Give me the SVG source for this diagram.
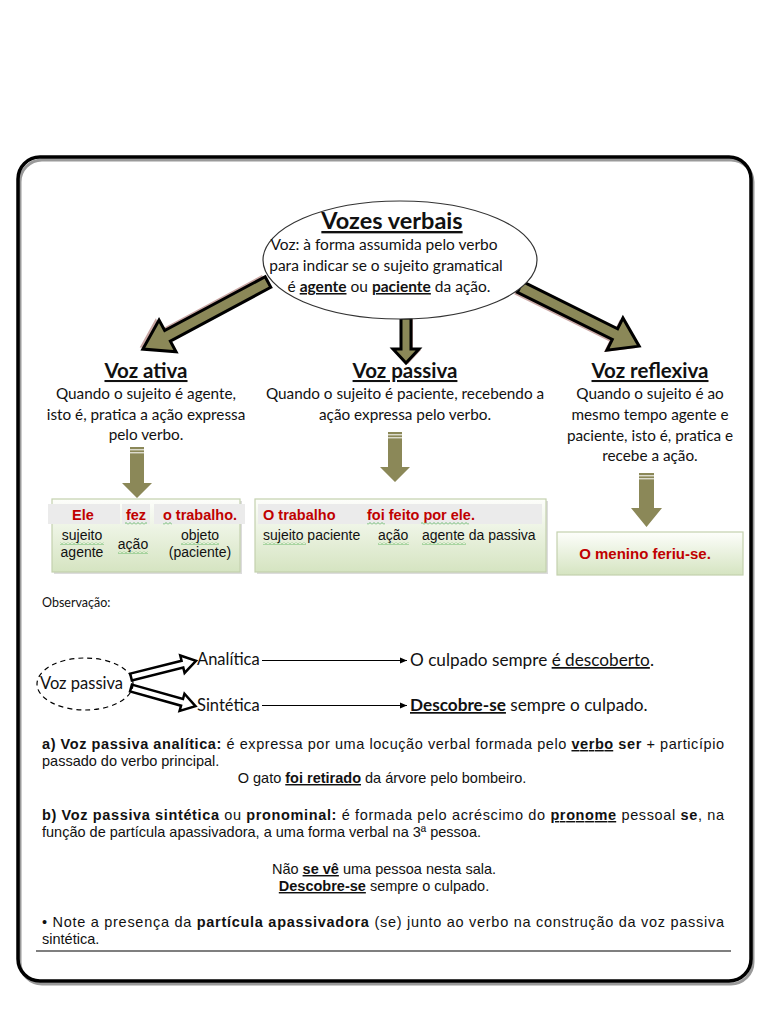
<svg xmlns="http://www.w3.org/2000/svg" width="768" height="1024" viewBox="0 0 768 1024">
<defs>
<linearGradient id="boxg" x1="0" y1="0" x2="0" y2="1">
<stop offset="0" stop-color="#fdfefb"/>
<stop offset="1" stop-color="#d5e4c1"/>
</linearGradient>
<marker id="ah" markerWidth="8" markerHeight="8" refX="7" refY="4" orient="auto" markerUnits="userSpaceOnUse">
<path d="M0,1 L7,4 L0,7 Z" fill="#000"/>
</marker>
<pattern id="wavy" width="4" height="3" patternUnits="userSpaceOnUse">
<polyline points="0,2.5 2,0.5 4,2.5" fill="none" stroke="#4caf50" stroke-width="0.8"/>
</pattern>
</defs>
<style>
.cal{font-family:Lato,"Open Sans","Liberation Sans",sans-serif;fill:#111}
.ar{font-family:"Liberation Sans",Arial,sans-serif;fill:#111}
.red{font-family:"Liberation Sans",Arial,sans-serif;fill:#c00000;font-weight:bold}
.u{text-decoration:underline}
.b{font-weight:bold}
.olive{fill:#8b8858}
.big{fill:#8b8858;stroke:#000;stroke-width:3;stroke-linejoin:miter}
.shad{fill:#c9a7a4}
.box{fill:url(#boxg);stroke:#c3d1ae;stroke-width:1.2}
.row{fill:#ebebeb}
.conn{stroke:#000;stroke-width:1.2;fill:none}
.oarrow{fill:#fff;stroke:#000;stroke-width:2.5;stroke-linejoin:miter}
.wv{fill:url(#wavy)}
</style>
<rect width="768" height="1024" fill="#fff"/>
<rect x="20" y="160" width="733" height="824" rx="22" fill="none" stroke="#9a9a9a" stroke-width="3"/>
<rect x="18" y="157" width="733" height="824" rx="22" fill="none" stroke="#000" stroke-width="3.5"/>

<g id="connectors">
<g transform="translate(268,282) rotate(151.8)">
<polygon class="shad" transform="translate(2,3)" points="0,-6 114,-6 114,-18 142,0 114,18 114,6 0,6"/>
<polygon class="big" points="0,-6 114,-6 114,-18 142,0 114,18 114,6 0,6"/>
</g>
<g transform="translate(520,287) rotate(26.4)">
<polygon class="shad" transform="translate(-2,3)" points="0,-6 106,-6 106,-18 133,0 106,18 106,6 0,6"/>
<polygon class="big" points="0,-6 106,-6 106,-18 133,0 106,18 106,6 0,6"/>
</g>
<g transform="translate(406,318) rotate(90)">
<polygon class="shad" transform="translate(1,-2)" points="0,-5 31,-5 31,-13 45,0 31,13 31,5 0,5"/>
<polygon class="big" points="0,-5 31,-5 31,-13 45,0 31,13 31,5 0,5"/>
</g>
<g>
<polygon class="olive" points="130,447 144,447 144,483 152,483 137,498 122,483 130,483"/>
<line x1="130" y1="449.8" x2="144" y2="449.8" stroke="#fff" stroke-width="1"/>
<line x1="130" y1="452.8" x2="144" y2="452.8" stroke="#fff" stroke-width="1"/>
</g>
<g>
<polygon class="olive" points="388,432 402,432 402,467 410,467 395,482 380,467 388,467"/>
<line x1="388" y1="434.8" x2="402" y2="434.8" stroke="#fff" stroke-width="1"/>
<line x1="388" y1="437.8" x2="402" y2="437.8" stroke="#fff" stroke-width="1"/>
</g>
<g>
<polygon class="olive" points="639,473 654,473 654,508 662,508 646.5,527 631,508 639,508"/>
<line x1="639" y1="475.8" x2="654" y2="475.8" stroke="#fff" stroke-width="1"/>
<line x1="639" y1="478.8" x2="654" y2="478.8" stroke="#fff" stroke-width="1"/>
</g>
<g transform="translate(131,677) rotate(-14)">
<polygon class="oarrow" points="0,-3.5 53,-3.5 53,-9 67,0 53,9 53,3.5 0,3.5"/>
</g>
<g transform="translate(131,688) rotate(15.7)">
<polygon class="oarrow" points="0,-3.5 53,-3.5 53,-9 67,0 53,9 53,3.5 0,3.5"/>
</g>
<line class="conn" x1="262" y1="660.5" x2="407" y2="660.5" marker-end="url(#ah)"/>
<line class="conn" x1="262" y1="705.5" x2="407" y2="705.5" marker-end="url(#ah)"/>
</g>

<g id="vozes-verbais">
<ellipse cx="400" cy="260" rx="137" ry="59" fill="#fff" stroke="#333" stroke-width="1.2"/>
<text class="cal b u" x="392" y="229" font-size="23.5" text-anchor="middle">Vozes verbais</text>
<text class="cal" x="384" y="250" font-size="15.5" text-anchor="middle">Voz: à forma assumida pelo verbo</text>
<text class="cal" x="386" y="271" font-size="15.5" text-anchor="middle">para indicar se o sujeito gramatical</text>
<text class="cal" x="389" y="292" font-size="15.5" text-anchor="middle">é <tspan class="b u">agente</tspan> ou <tspan class="b u">paciente</tspan> da ação.</text>
</g>

<g id="voz-ativa">
<text class="cal b u" x="146" y="378" font-size="20.5" text-anchor="middle">Voz ativa</text>
<text class="cal" x="146" y="399" font-size="15.3" text-anchor="middle">Quando o sujeito é agente,</text>
<text class="cal" x="146" y="420" font-size="15.3" text-anchor="middle">isto é, pratica a ação expressa</text>
<text class="cal" x="146" y="440" font-size="15.3" text-anchor="middle">pelo verbo.</text>
</g>

<g id="voz-passiva">
<text class="cal b u" x="405" y="378" font-size="20.5" text-anchor="middle">Voz passiva</text>
<text class="cal" x="405" y="399" font-size="15.3" text-anchor="middle">Quando o sujeito é paciente, recebendo a</text>
<text class="cal" x="405" y="420" font-size="15.3" text-anchor="middle">ação expressa pelo verbo.</text>
</g>

<g id="voz-reflexiva">
<text class="cal b u" x="650" y="378" font-size="20.5" text-anchor="middle">Voz reflexiva</text>
<text class="cal" x="650" y="399" font-size="15.3" text-anchor="middle">Quando o sujeito é ao</text>
<text class="cal" x="650" y="420" font-size="15.3" text-anchor="middle">mesmo tempo agente e</text>
<text class="cal" x="650" y="441" font-size="15.3" text-anchor="middle">paciente, isto é, pratica e</text>
<text class="cal" x="650" y="461" font-size="15.3" text-anchor="middle">recebe a ação.</text>
</g>

<g id="exemplo-ativa">
<rect x="54" y="501" width="188" height="73" fill="#b9b9b9" opacity="0.5"/>
<rect class="box" x="52" y="499" width="188" height="73"/>
<rect class="row" x="48" y="504" width="72" height="20"/>
<rect class="row" x="122" y="504" width="28" height="20"/>
<rect class="row" x="154" y="504" width="91" height="20"/>
<text class="red" x="83" y="520" font-size="14.5" text-anchor="middle">Ele</text>
<text class="red" x="136" y="520" font-size="14.5" text-anchor="middle">fez</text>
<text class="red" x="200" y="520" font-size="14.5" text-anchor="middle">o trabalho.</text>
<text class="ar" x="82" y="540" font-size="14" text-anchor="middle">sujeito</text>
<text class="ar" x="82" y="557" font-size="14" text-anchor="middle">agente</text>
<text class="ar" x="133" y="549" font-size="14" text-anchor="middle">ação</text>
<text class="ar" x="200" y="540" font-size="14" text-anchor="middle">objeto</text>
<text class="ar" x="200" y="557" font-size="14" text-anchor="middle">(paciente)</text>
<rect class="wv" x="125" y="522" width="22" height="3"/>
<rect class="wv" x="163" y="522" width="9" height="3"/>
<rect class="wv" x="60" y="542" width="44" height="3"/>
<rect class="wv" x="118" y="551" width="30" height="3"/>
<rect class="wv" x="181" y="542" width="38" height="3"/>
</g>

<g id="exemplo-passiva">
<rect x="257" y="501" width="291" height="73" fill="#b9b9b9" opacity="0.5"/>
<rect class="box" x="255" y="499" width="291" height="73"/>
<rect class="row" x="258" y="504" width="284" height="20"/>
<text class="red" x="263" y="520" font-size="14.5">O trabalho</text>
<text class="red" x="367" y="520" font-size="14.5">foi feito por ele.</text>
<text class="ar" x="263" y="540" font-size="14">sujeito paciente</text>
<text class="ar" x="378" y="540" font-size="14">ação</text>
<text class="ar" x="422" y="540" font-size="14">agente da passiva</text>
<rect class="wv" x="367" y="522" width="18" height="3"/>
<rect class="wv" x="421" y="522" width="48" height="3"/>
<rect class="wv" x="263" y="542" width="43" height="3"/>
<rect class="wv" x="378" y="542" width="31" height="3"/>
<rect class="wv" x="422" y="542" width="44" height="3"/>
</g>

<g id="exemplo-reflexiva">
<rect class="box" x="557" y="532" width="186" height="43" stroke="#dde5d0"/>
<text class="red" x="645" y="559" font-size="15" text-anchor="middle">O menino feriu-se.</text>
</g>

<g id="observacao">
<text class="cal" x="42" y="607" font-size="12.5">Observação:</text>
</g>

<g id="voz-passiva-tipos">
<ellipse cx="85" cy="684" rx="48" ry="26" fill="none" stroke="#000" stroke-width="1.2" stroke-dasharray="5,4"/>
<text class="cal" x="40" y="689" font-size="16.5">Voz passiva</text>
</g>
<g id="analitica">
<text class="cal" x="197" y="665" font-size="16.5">Analítica</text>
</g>
<g id="sintetica">
<text class="cal" x="197" y="711" font-size="16.5">Sintética</text>
</g>
<g id="ex-analitica">
<text class="cal" x="410" y="666" font-size="17.2">O culpado sempre <tspan class="u">é descoberto</tspan>.</text>
</g>
<g id="ex-sintetica">
<text class="cal" x="410" y="711" font-size="17.2"><tspan class="b u">Descobre-se</tspan> sempre o culpado.</text>
</g>

<g id="texto">
<text class="ar" x="42" y="749" font-size="14.5" textLength="682" lengthAdjust="spacing"><tspan class="b">a) Voz passiva analítica:</tspan> é expressa por uma locução verbal formada pelo <tspan class="b u">verbo</tspan> <tspan class="b">ser</tspan> + particípio</text>
<text class="ar" x="42" y="766" font-size="14.5">passado do verbo principal.</text>
<text class="ar" x="382" y="783" font-size="14.5" text-anchor="middle">O gato <tspan class="b u">foi retirado</tspan> da árvore pelo bombeiro.</text>
<text class="ar" x="42" y="820" font-size="14.5" textLength="682" lengthAdjust="spacing"><tspan class="b">b) Voz passiva sintética</tspan> ou <tspan class="b">pronominal:</tspan> é formada pelo acréscimo do <tspan class="b u">pronome</tspan> pessoal <tspan class="b">se</tspan>, na</text>
<text class="ar" x="42" y="837" font-size="14.5">função de partícula apassivadora, a uma forma verbal na 3ª pessoa.</text>
<text class="ar" x="384" y="874" font-size="14.5" text-anchor="middle">Não <tspan class="b u">se vê</tspan> uma pessoa nesta sala.</text>
<text class="ar" x="384" y="891" font-size="14.5" text-anchor="middle"><tspan class="b u">Descobre-se</tspan> sempre o culpado.</text>
<text class="ar" x="42" y="927" font-size="14.5" textLength="682" lengthAdjust="spacing">• Note a presença da <tspan class="b">partícula apassivadora</tspan> (se) junto ao verbo na construção da voz passiva</text>
<text class="ar" x="42" y="944" font-size="14.5">sintética.</text>
<line x1="36" y1="951" x2="731" y2="951" stroke="#000" stroke-width="1.2"/>
</g>
</svg>
